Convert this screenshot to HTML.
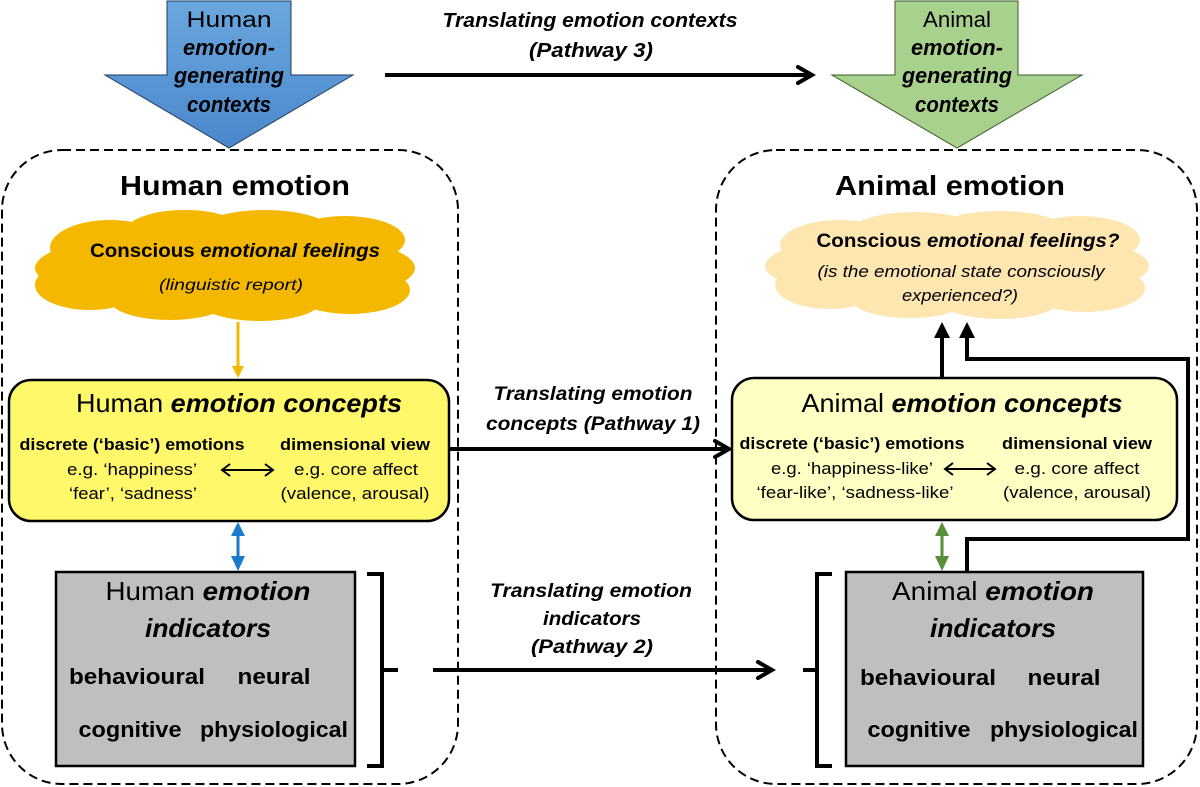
<!DOCTYPE html>
<html><head><meta charset="utf-8"><style>
html,body{margin:0;padding:0;background:#fff}
svg{display:block}
text{font-family:"Liberation Sans",sans-serif;fill:#000}
.b{font-weight:bold}.i{font-style:italic}
</style></head><body>
<svg width="1200" height="787" viewBox="0 0 1200 787" xmlns="http://www.w3.org/2000/svg">
<defs>
<linearGradient id="bl" x1="0" y1="0" x2="0" y2="1"><stop offset="0" stop-color="#6aa6de"/><stop offset="1" stop-color="#4a88cc"/></linearGradient>
<marker id="ah" viewBox="0 0 10 10" refX="8" refY="5" markerWidth="5" markerHeight="5" orient="auto"><path d="M1,1 L8,5 L1,9" fill="none" stroke="#000" stroke-width="2" stroke-linecap="round"/></marker>
</defs>
<!-- dashed boxes -->
<rect x="2" y="150" width="456" height="634" rx="60" fill="none" stroke="#000" stroke-width="2" stroke-dasharray="9,5"/>
<rect x="716" y="150" width="481" height="634" rx="60" fill="none" stroke="#000" stroke-width="2" stroke-dasharray="9,5"/>
<!-- blue arrow -->
<path d="M167,1 H291 V75 H353 L229,148 L105,75 H167 Z" fill="url(#bl)" stroke="#1f3a5f" stroke-width="1"/>
<text x="229" y="27" font-size="22" text-anchor="middle" textLength="85" lengthAdjust="spacingAndGlyphs">Human</text>
<text x="229" y="55" font-size="22" text-anchor="middle" class="b i" textLength="92" lengthAdjust="spacingAndGlyphs">emotion-</text>
<text x="229" y="83" font-size="22" text-anchor="middle" class="b i" textLength="110" lengthAdjust="spacingAndGlyphs">generating</text>
<text x="229" y="112" font-size="22" text-anchor="middle" class="b i" textLength="84" lengthAdjust="spacingAndGlyphs">contexts</text>
<!-- green arrow -->
<path d="M895,1 H1018 V75 H1082 L957,148 L832,75 H895 Z" fill="#a9d18e" stroke="#3d5a2a" stroke-width="1"/>
<text x="957" y="27" font-size="22" text-anchor="middle" textLength="68" lengthAdjust="spacingAndGlyphs">Animal</text>
<text x="957" y="55" font-size="22" text-anchor="middle" class="b i" textLength="92" lengthAdjust="spacingAndGlyphs">emotion-</text>
<text x="957" y="83" font-size="22" text-anchor="middle" class="b i" textLength="110" lengthAdjust="spacingAndGlyphs">generating</text>
<text x="957" y="112" font-size="22" text-anchor="middle" class="b i" textLength="84" lengthAdjust="spacingAndGlyphs">contexts</text>
<!-- pathway 3 -->
<text x="590" y="27" font-size="20" text-anchor="middle" class="b i" textLength="295" lengthAdjust="spacingAndGlyphs">Translating emotion contexts</text>
<text x="591" y="57" font-size="20" text-anchor="middle" class="b i" textLength="124" lengthAdjust="spacingAndGlyphs">(Pathway 3)</text>
<line x1="385" y1="75" x2="812" y2="75" stroke="#000" stroke-width="4" marker-end="url(#ah)"/>
<!-- titles -->
<text x="235" y="195" font-size="28" text-anchor="middle" class="b" textLength="230" lengthAdjust="spacingAndGlyphs">Human emotion</text>
<text x="950" y="195" font-size="28" text-anchor="middle" class="b" textLength="230" lengthAdjust="spacingAndGlyphs">Animal emotion</text>
<!-- left cloud -->
<g fill="#f5b800">
<ellipse cx="225" cy="268" rx="190" ry="40"/>
<ellipse cx="110" cy="248" rx="60" ry="28"/><ellipse cx="185" cy="232" rx="60" ry="22"/><ellipse cx="265" cy="230" rx="65" ry="20"/><ellipse cx="345" cy="240" rx="60" ry="24"/>
<ellipse cx="90" cy="285" rx="55" ry="25"/><ellipse cx="170" cy="300" rx="60" ry="20"/><ellipse cx="260" cy="302" rx="60" ry="19"/><ellipse cx="350" cy="290" rx="60" ry="24"/>
</g>
<text x="235" y="257" font-size="19" text-anchor="middle" class="b" textLength="290" lengthAdjust="spacingAndGlyphs">Conscious <tspan class="i">emotional feelings</tspan></text>
<text x="231" y="290" font-size="16" text-anchor="middle" class="i" textLength="144" lengthAdjust="spacingAndGlyphs">(linguistic report)</text>
<!-- right cloud -->
<g fill="#fde6b0">
<ellipse cx="957" cy="266" rx="192" ry="38"/>
<ellipse cx="840" cy="245" rx="60" ry="25"/><ellipse cx="915" cy="232" rx="65" ry="20"/><ellipse cx="1000" cy="230" rx="65" ry="19"/><ellipse cx="1080" cy="240" rx="60" ry="24"/>
<ellipse cx="830" cy="285" rx="55" ry="24"/><ellipse cx="910" cy="298" rx="60" ry="20"/><ellipse cx="1000" cy="300" rx="60" ry="19"/><ellipse cx="1085" cy="288" rx="60" ry="24"/>
</g>
<text x="968" y="247" font-size="19" text-anchor="middle" class="b" textLength="303" lengthAdjust="spacingAndGlyphs">Conscious <tspan class="i">emotional feelings?</tspan></text>
<text x="961" y="277" font-size="17" text-anchor="middle" class="i" textLength="287" lengthAdjust="spacingAndGlyphs">(is the emotional state consciously</text>
<text x="960" y="301" font-size="17" text-anchor="middle" class="i" textLength="116" lengthAdjust="spacingAndGlyphs">experienced?)</text>
<!-- orange arrow -->
<line x1="238" y1="322" x2="238" y2="368" stroke="#f5b800" stroke-width="3"/>
<path d="M232,366 L244,366 L238,378 Z" fill="#f5b800"/>
<!-- left yellow box -->
<rect x="9" y="380" width="440" height="141" rx="22" fill="#fff86b" stroke="#000" stroke-width="2.5"/>
<text x="239" y="412" font-size="26" text-anchor="middle" textLength="326" lengthAdjust="spacingAndGlyphs">Human <tspan class="b i">emotion concepts</tspan></text>
<text x="132" y="450" font-size="17" text-anchor="middle" class="b" textLength="225" lengthAdjust="spacingAndGlyphs">discrete (‘basic’) emotions</text>
<text x="132" y="475" font-size="17" text-anchor="middle" textLength="130" lengthAdjust="spacingAndGlyphs">e.g. ‘happiness’</text>
<text x="133" y="499" font-size="17" text-anchor="middle" textLength="128" lengthAdjust="spacingAndGlyphs">‘fear’, ‘sadness’</text>
<text x="355" y="450" font-size="17" text-anchor="middle" class="b" textLength="150" lengthAdjust="spacingAndGlyphs">dimensional view</text>
<text x="356" y="475" font-size="17" text-anchor="middle" textLength="124" lengthAdjust="spacingAndGlyphs">e.g. core affect</text>
<text x="355" y="499" font-size="17" text-anchor="middle" textLength="149" lengthAdjust="spacingAndGlyphs">(valence, arousal)</text>
<line x1="222" y1="470" x2="273" y2="470" stroke="#000" stroke-width="2"/>
<path d="M230,464 L222,470 L230,476" fill="none" stroke="#000" stroke-width="2"/>
<path d="M265,464 L273,470 L265,476" fill="none" stroke="#000" stroke-width="2"/>
<!-- blue double arrow -->
<line x1="238" y1="532" x2="238" y2="560" stroke="#1a7acb" stroke-width="3"/>
<path d="M231,536 L245,536 L238,522 Z M231,556 L245,556 L238,571 Z" fill="#1a7acb"/>
<!-- right yellow box -->
<rect x="732" y="378" width="445" height="142" rx="22" fill="#ffffc4" stroke="#000" stroke-width="2.5"/>
<text x="962" y="412" font-size="26" text-anchor="middle" textLength="321" lengthAdjust="spacingAndGlyphs">Animal <tspan class="b i">emotion concepts</tspan></text>
<text x="852" y="449" font-size="17" text-anchor="middle" class="b" textLength="225" lengthAdjust="spacingAndGlyphs">discrete (‘basic’) emotions</text>
<text x="852" y="474" font-size="17" text-anchor="middle" textLength="162" lengthAdjust="spacingAndGlyphs">e.g. ‘happiness-like’</text>
<text x="855" y="498" font-size="17" text-anchor="middle" textLength="197" lengthAdjust="spacingAndGlyphs">‘fear-like’, ‘sadness-like’</text>
<text x="1077" y="449" font-size="17" text-anchor="middle" class="b" textLength="150" lengthAdjust="spacingAndGlyphs">dimensional view</text>
<text x="1077" y="474" font-size="17" text-anchor="middle" textLength="125" lengthAdjust="spacingAndGlyphs">e.g. core affect</text>
<text x="1077" y="498" font-size="17" text-anchor="middle" textLength="148" lengthAdjust="spacingAndGlyphs">(valence, arousal)</text>
<line x1="945" y1="469" x2="995" y2="469" stroke="#000" stroke-width="2"/>
<path d="M953,463 L945,469 L953,475 M987,463 L995,469 L987,475" fill="none" stroke="#000" stroke-width="2"/>
<!-- green double arrow -->
<line x1="942" y1="532" x2="942" y2="560" stroke="#5a8f3a" stroke-width="3"/>
<path d="M935,536 L949,536 L942,522 Z M935,556 L949,556 L942,571 Z" fill="#5a8f3a"/>
<!-- up arrows to right cloud -->
<line x1="942" y1="378" x2="942" y2="335" stroke="#000" stroke-width="4"/>
<path d="M934,338 L950,338 L942,322 Z" fill="#000"/>
<path d="M967,572 V539 H1188 V359 H967 V335" fill="none" stroke="#000" stroke-width="4"/>
<path d="M959,338 L975,338 L967,322 Z" fill="#000"/>
<!-- pathway 1 -->
<text x="593" y="400" font-size="19" text-anchor="middle" class="b i" textLength="199" lengthAdjust="spacingAndGlyphs">Translating emotion</text>
<text x="593" y="430" font-size="19" text-anchor="middle" class="b i" textLength="214" lengthAdjust="spacingAndGlyphs">concepts (Pathway 1)</text>
<line x1="450" y1="449" x2="729" y2="449" stroke="#000" stroke-width="4" marker-end="url(#ah)"/>
<!-- pathway 2 -->
<text x="591" y="597" font-size="19" text-anchor="middle" class="b i" textLength="202" lengthAdjust="spacingAndGlyphs">Translating emotion</text>
<text x="592" y="625" font-size="19" text-anchor="middle" class="b i" textLength="98" lengthAdjust="spacingAndGlyphs">indicators</text>
<text x="592" y="653" font-size="19" text-anchor="middle" class="b i" textLength="122" lengthAdjust="spacingAndGlyphs">(Pathway 2)</text>
<line x1="433" y1="670" x2="772" y2="670" stroke="#000" stroke-width="4" marker-end="url(#ah)"/>
<!-- left gray box -->
<rect x="56" y="572" width="299" height="194" fill="#bfbfbf" stroke="#000" stroke-width="2.5"/>
<text x="208" y="600" font-size="26" text-anchor="middle" textLength="205" lengthAdjust="spacingAndGlyphs">Human <tspan class="b i">emotion</tspan></text>
<text x="208" y="637" font-size="26" text-anchor="middle" class="b i" textLength="126" lengthAdjust="spacingAndGlyphs">indicators</text>
<text x="137" y="684" font-size="22" text-anchor="middle" class="b" textLength="136" lengthAdjust="spacingAndGlyphs">behavioural</text>
<text x="274" y="684" font-size="22" text-anchor="middle" class="b" textLength="73" lengthAdjust="spacingAndGlyphs">neural</text>
<text x="130" y="737" font-size="22" text-anchor="middle" class="b" textLength="103" lengthAdjust="spacingAndGlyphs">cognitive</text>
<text x="274" y="737" font-size="22" text-anchor="middle" class="b" textLength="148" lengthAdjust="spacingAndGlyphs">physiological</text>
<path d="M367,574 H382 V766 H367 M382,670 H398" fill="none" stroke="#000" stroke-width="4"/>
<!-- right gray box -->
<rect x="846" y="572" width="297" height="194" fill="#bfbfbf" stroke="#000" stroke-width="2.5"/>
<text x="993" y="600" font-size="26" text-anchor="middle" textLength="202" lengthAdjust="spacingAndGlyphs">Animal <tspan class="b i">emotion</tspan></text>
<text x="993" y="637" font-size="26" text-anchor="middle" class="b i" textLength="126" lengthAdjust="spacingAndGlyphs">indicators</text>
<text x="928" y="685" font-size="22" text-anchor="middle" class="b" textLength="136" lengthAdjust="spacingAndGlyphs">behavioural</text>
<text x="1064" y="685" font-size="22" text-anchor="middle" class="b" textLength="73" lengthAdjust="spacingAndGlyphs">neural</text>
<text x="919" y="737" font-size="22" text-anchor="middle" class="b" textLength="103" lengthAdjust="spacingAndGlyphs">cognitive</text>
<text x="1064" y="737" font-size="22" text-anchor="middle" class="b" textLength="148" lengthAdjust="spacingAndGlyphs">physiological</text>
<path d="M832,574 H817 V766 H832 M817,670 H803" fill="none" stroke="#000" stroke-width="4"/>
</svg>
</body></html>
